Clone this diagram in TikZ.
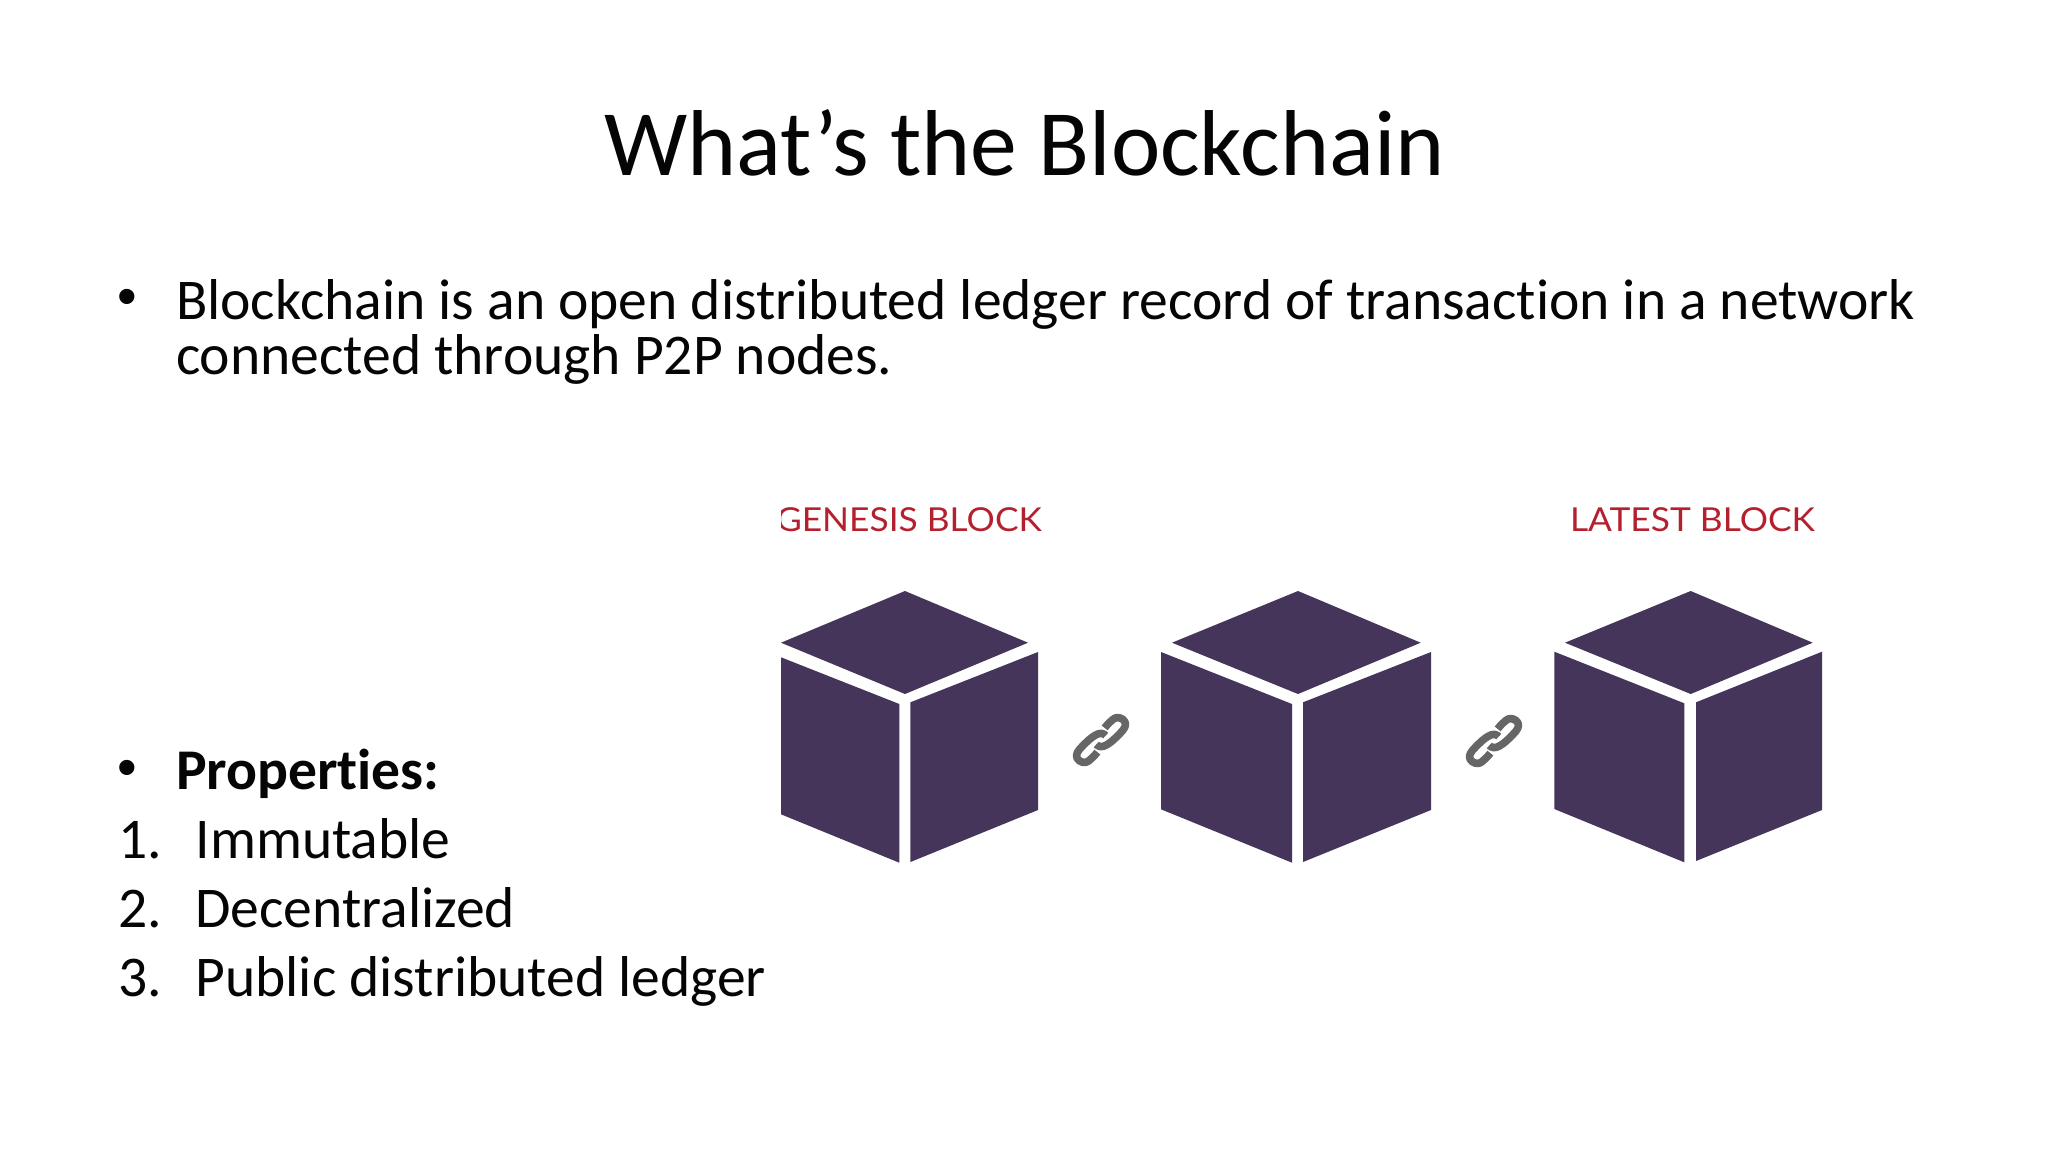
\documentclass[tikz,border=0pt]{standalone}
\usepackage{fontspec}
\setmainfont[Ligatures=NoCommon]{Carlito}
\newfontfamily\labelfont{Lato}
\newfontfamily\bulletfont{Liberation Sans}
\definecolor{cubefill}{HTML}{45355A}
\definecolor{labelred}{HTML}{B5202E}
\definecolor{linkgray}{HTML}{666666}
\definecolor{ink}{HTML}{050505}
\tikzset{
  x=1pt,y=-1pt,
  face/.style={fill=cubefill,draw=none},
  txt/.style={anchor=base west,inner sep=0pt,outer sep=0pt,text=ink},
  titletxt/.style={txt,font=\fontsize{93.6}{100}\selectfont},
  bodytxt/.style={txt,font=\fontsize{57.6}{60}\selectfont},
  boldtxt/.style={txt,font=\fontsize{57.6}{60}\selectfont\bfseries},
  bullettxt/.style={anchor=center,inner sep=0pt,outer sep=0pt,text=ink,font=\fontsize{56}{58}\selectfont\bulletfont},
  redtxt/.style={anchor=base west,inner sep=0pt,outer sep=0pt,text=labelred,xscale=1.07,transform shape,font=\fontsize{33}{35}\selectfont\labelfont},
  linkstroke/.style={draw=linkgray,line width=7.6pt,line cap=butt,line join=round},
  linkicon/.pic={
    \draw[linkstroke] plot[smooth,tension=0.75] coordinates {(39.3,25) (50,15.7) (58.3,21.7) (50,33.3) (38.3,41.7) (31.7,40)};
    \draw[linkstroke] plot[smooth,tension=0.75] coordinates {(32.7,47) (22,56.3) (13.7,50.3) (22,38.7) (33.7,30.3) (40.3,32)};
  }
}
\begin{document}
\begin{tikzpicture}
\useasboundingbox (0,0) rectangle (2048,1152);
\fill[white] (0,0) rectangle (2048,1152);
% texts
\node[titletxt] (title) at (604,175) {What’s the Blockchain};
\node[bullettxt] (bul1) at (127.5,302) {•};
\node[bodytxt] (line1) at (176,319) {Blockchain is an open distributed ledger record of transaction in a network};
\node[bodytxt] (line2) at (176,374) {connected through P2P nodes.};
\node[bullettxt] (bul2) at (127.5,773) {•};
\node[boldtxt] (prop) at (176,789.5) {Properties:};
\node[bodytxt] (n1) at (118,858) {1.};
\node[bodytxt] (t1) at (195.5,858) {Immutable};
\node[bodytxt] (n2) at (118,927.2) {2.};
\node[bodytxt] (t2) at (195.5,927.2) {Decentralized};
\node[bodytxt] (n3) at (118,996.5) {3.};
\node[bodytxt] (t3) at (195.5,996.5) {Public distributed ledger};
% labels
\begin{scope}
\clip (781,490) rectangle (1100,550);
\node[redtxt] (genesis) at (776,531.7) {GENESIS BLOCK};
\end{scope}
\node[redtxt] (latest) at (1570,531.7) {LATEST BLOCK};
% cube 1
\fill[face] (905,591) -- (1028,642.7) -- (905,694) -- (781,642.7) -- cycle;
\fill[face] (781,657.3) -- (899.3,704) -- (899.3,862.7) -- (781,814.3) -- cycle;
\fill[face] (910.4,702.3) -- (1038,652) -- (1038,810) -- (910.4,862) -- cycle;
% cube 2
\fill[face] (1298,591) -- (1420.7,642.7) -- (1298,694) -- (1172,642.7) -- cycle;
\fill[face] (1161,652) -- (1292,704) -- (1292,862.7) -- (1161,809.3) -- cycle;
\fill[face] (1303,702.3) -- (1431,652) -- (1431,810) -- (1303,862) -- cycle;
% cube 3
\fill[face] (1690.7,591) -- (1812.7,642.7) -- (1690.7,694) -- (1565,642.7) -- cycle;
\fill[face] (1554.3,651.7) -- (1684.3,703.3) -- (1684.3,862.3) -- (1554.3,809) -- cycle;
\fill[face] (1696,702.3) -- (1822,651.7) -- (1822,810) -- (1696,861) -- cycle;
% chain links
\pic[scale=1.1] at (1061.4,700.4) {linkicon};
\pic[scale=1.1] at (1454.4,701.4) {linkicon};
\end{tikzpicture}
\end{document}
